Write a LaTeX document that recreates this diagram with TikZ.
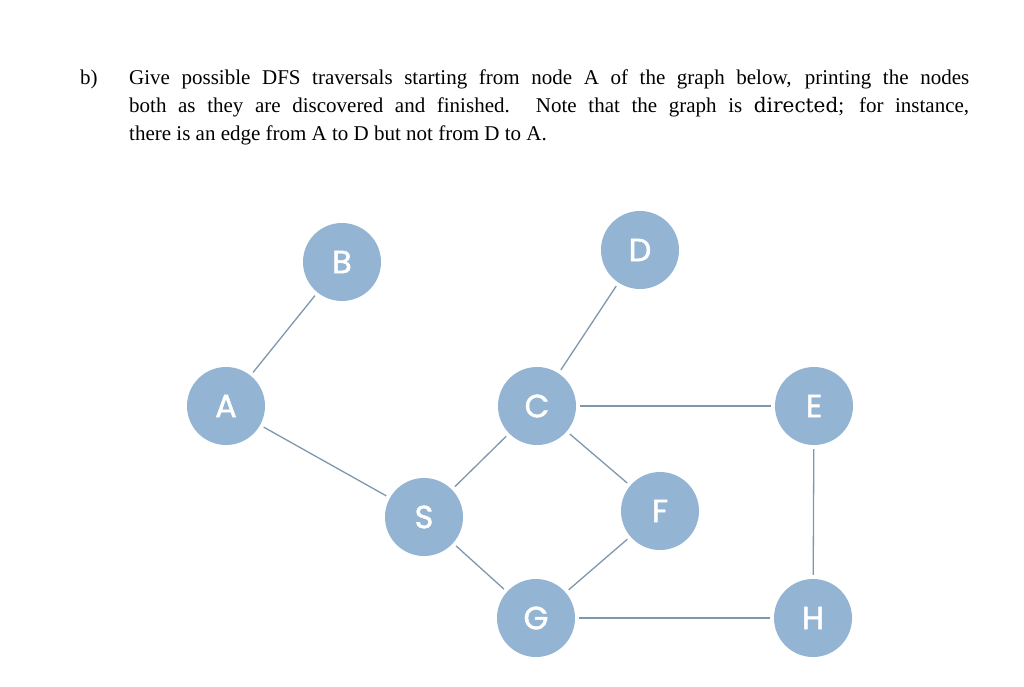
\documentclass[tikz,border=0pt]{standalone}
\usepackage{fontspec}
\setmainfont{Liberation Serif}
\newfontfamily\nodefont[FakeBold=1.5]{Poppins}
\newfontfamily\dirfont{DejaVu Serif}
\definecolor{nodefill}{HTML}{93B4D2}
\definecolor{edgecol}{HTML}{7F97AD}
\begin{document}
\begin{tikzpicture}[x=1pt,y=-1pt,
  vtx/.style={circle,fill=nodefill,minimum size=78pt,inner sep=0pt,text=white,font=\nodefont\fontsize{32}{32}\selectfont},
  edge/.style={draw=edgecol,line width=1.3pt,shorten >=4pt,shorten <=4pt}]
\useasboundingbox (0,0) rectangle (1024,686);
\node[anchor=north west,inner sep=0pt,font=\fontsize{21}{28}\selectfont] (lbl) at (80,70) {b)};
\node[anchor=north west,inner sep=0pt,text width=840pt,align=justify,font=\fontsize{21}{28}\selectfont] (txt) at (129,70)
 {Give possible DFS traversals starting from node A of the graph below, printing the nodes\linebreak both as they are discovered and finished. Note that the graph is {\dirfont\fontsize{20}{28}\selectfont directed}; for instance,\linebreak there is an edge from A to D but not from D to A.};
\node[vtx] (B) at (342,262) {B};
\node[vtx] (D) at (640,250) {D};
\node[vtx] (A) at (226,406) {A};
\node[vtx] (C) at (537,406) {C};
\node[vtx] (E) at (814,406) {E};
\node[vtx] (S) at (424,517) {S};
\node[vtx] (F) at (660,511) {F};
\node[vtx] (G) at (536,618) {G};
\node[vtx] (H) at (813,618) {H};
\draw[edge] (A) -- (B);
\draw[edge] (A) -- (S);
\draw[edge] (S) -- (C);
\draw[edge] (S) -- (G);
\draw[edge] (C) -- (D);
\draw[edge] (C) -- (E);
\draw[edge] (C) -- (F);
\draw[edge] (F) -- (G);
\draw[edge] (G) -- (H);
\draw[edge] (E) -- (H);
\end{tikzpicture}
\end{document}
